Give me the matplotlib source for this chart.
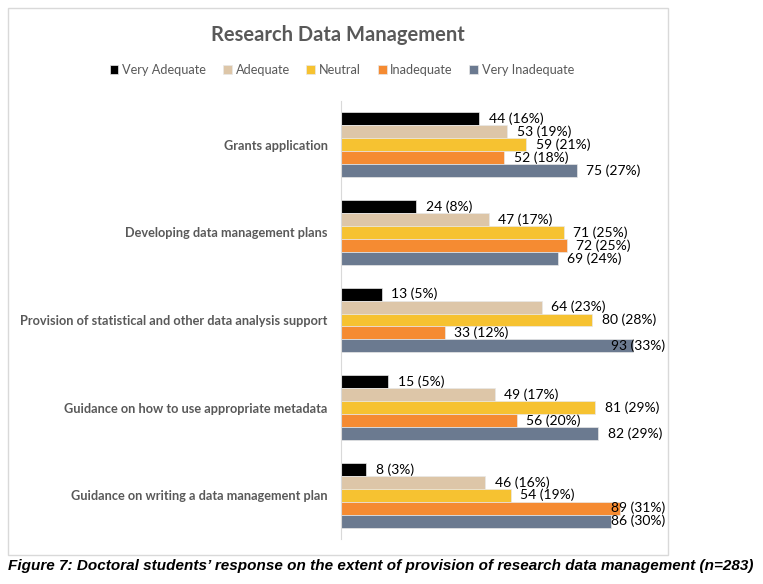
import numpy as np
import matplotlib
matplotlib.use('Agg')
import matplotlib.pyplot as plt
from matplotlib.patches import Rectangle

categories = ['Grants application', 'Developing data management plans',
              'Provision of statistical and other data analysis support',
              'Guidance on how to use appropriate metadata',
              'Guidance on writing a data management plan']
series = ['Very Adequate', 'Adequate', 'Neutral', 'Inadequate', 'Very Inadequate']
very_adequate = [44, 24, 13, 15, 8]
adequate = [53, 47, 64, 49, 46]
neutral = [59, 71, 80, 81, 54]
inadequate = [52, 72, 33, 56, 89]
very_inadequate = [75, 69, 93, 82, 86]
pct_very_adequate = [16, 8, 5, 5, 3]
pct_adequate = [19, 17, 23, 17, 16]
pct_neutral = [21, 25, 28, 29, 19]
pct_inadequate = [18, 25, 12, 20, 31]
pct_very_inadequate = [27, 24, 33, 29, 30]
colors = ['#000000', '#DDC6A8', '#F6C231', '#F58B32', '#6B7A90']

values = [very_adequate, adequate, neutral, inadequate, very_inadequate]
pcts = [pct_very_adequate, pct_adequate, pct_neutral, pct_inadequate, pct_very_inadequate]

W, H = 763, 584
fig = plt.figure(figsize=(W / 100, H / 100), dpi=100)

# outer chart border
fig.patches.append(Rectangle((8 / W, 1 - 555 / H), 660 / W, 547 / H, transform=fig.transFigure,
                             fill=False, edgecolor='#D9D9D9', linewidth=1))

ax = fig.add_axes([341 / W, 1 - 539 / H, 314 / W, 438 / H])

y = np.arange(len(categories))
bh = 0.148
for i, (vals, pc) in enumerate(zip(values, pcts)):
    yy = y - 2 * bh + i * bh
    ax.barh(yy, vals, height=bh, color=colors[i], edgecolor='#E8E8E8', linewidth=0.5, label=series[i])
    for yi, v, p in zip(yy, vals, pc):
        ax.text(min(v + 3, 86), yi, f'{v} ({p}%)', va='center', ha='left',
                fontsize=10, family='Lato', color='black')

ax.set_xlim(0, 100)
ax.set_ylim(len(categories) - 0.5, -0.5)
ax.set_yticks(y)
ax.set_yticklabels(categories, fontsize=9.2, fontweight='bold', color='#595959', family='Lato')
ax.tick_params(axis='y', length=0, pad=9.5)
ax.set_xticks([])
for s in ['top', 'right', 'bottom']:
    ax.spines[s].set_visible(False)
ax.spines['left'].set_color('#D9D9D9')

fig.text(338 / W, 1 - 35 / H, 'Research Data Management', ha='center', va='center',
         fontsize=14.5, fontweight='bold', color='#595959', family='Lato')

fig.legend(loc='center', bbox_to_anchor=(342 / W, 1 - 70 / H), ncol=5, frameon=False,
           prop={'family': 'Lato', 'size': 9.2}, labelcolor='#595959',
           handlelength=0.7, handleheight=0.7, handletextpad=0.3, columnspacing=1.3)

fig.text(8 / W, 1 - 566 / H,
         'Figure 7: Doctoral students\u2019 response on the extent of provision of research data management (n=283)',
         ha='left', va='center', fontsize=11, fontweight='bold', style='italic',
         family='Liberation Sans', color='black')

fig.savefig('out.png', dpi=100)
